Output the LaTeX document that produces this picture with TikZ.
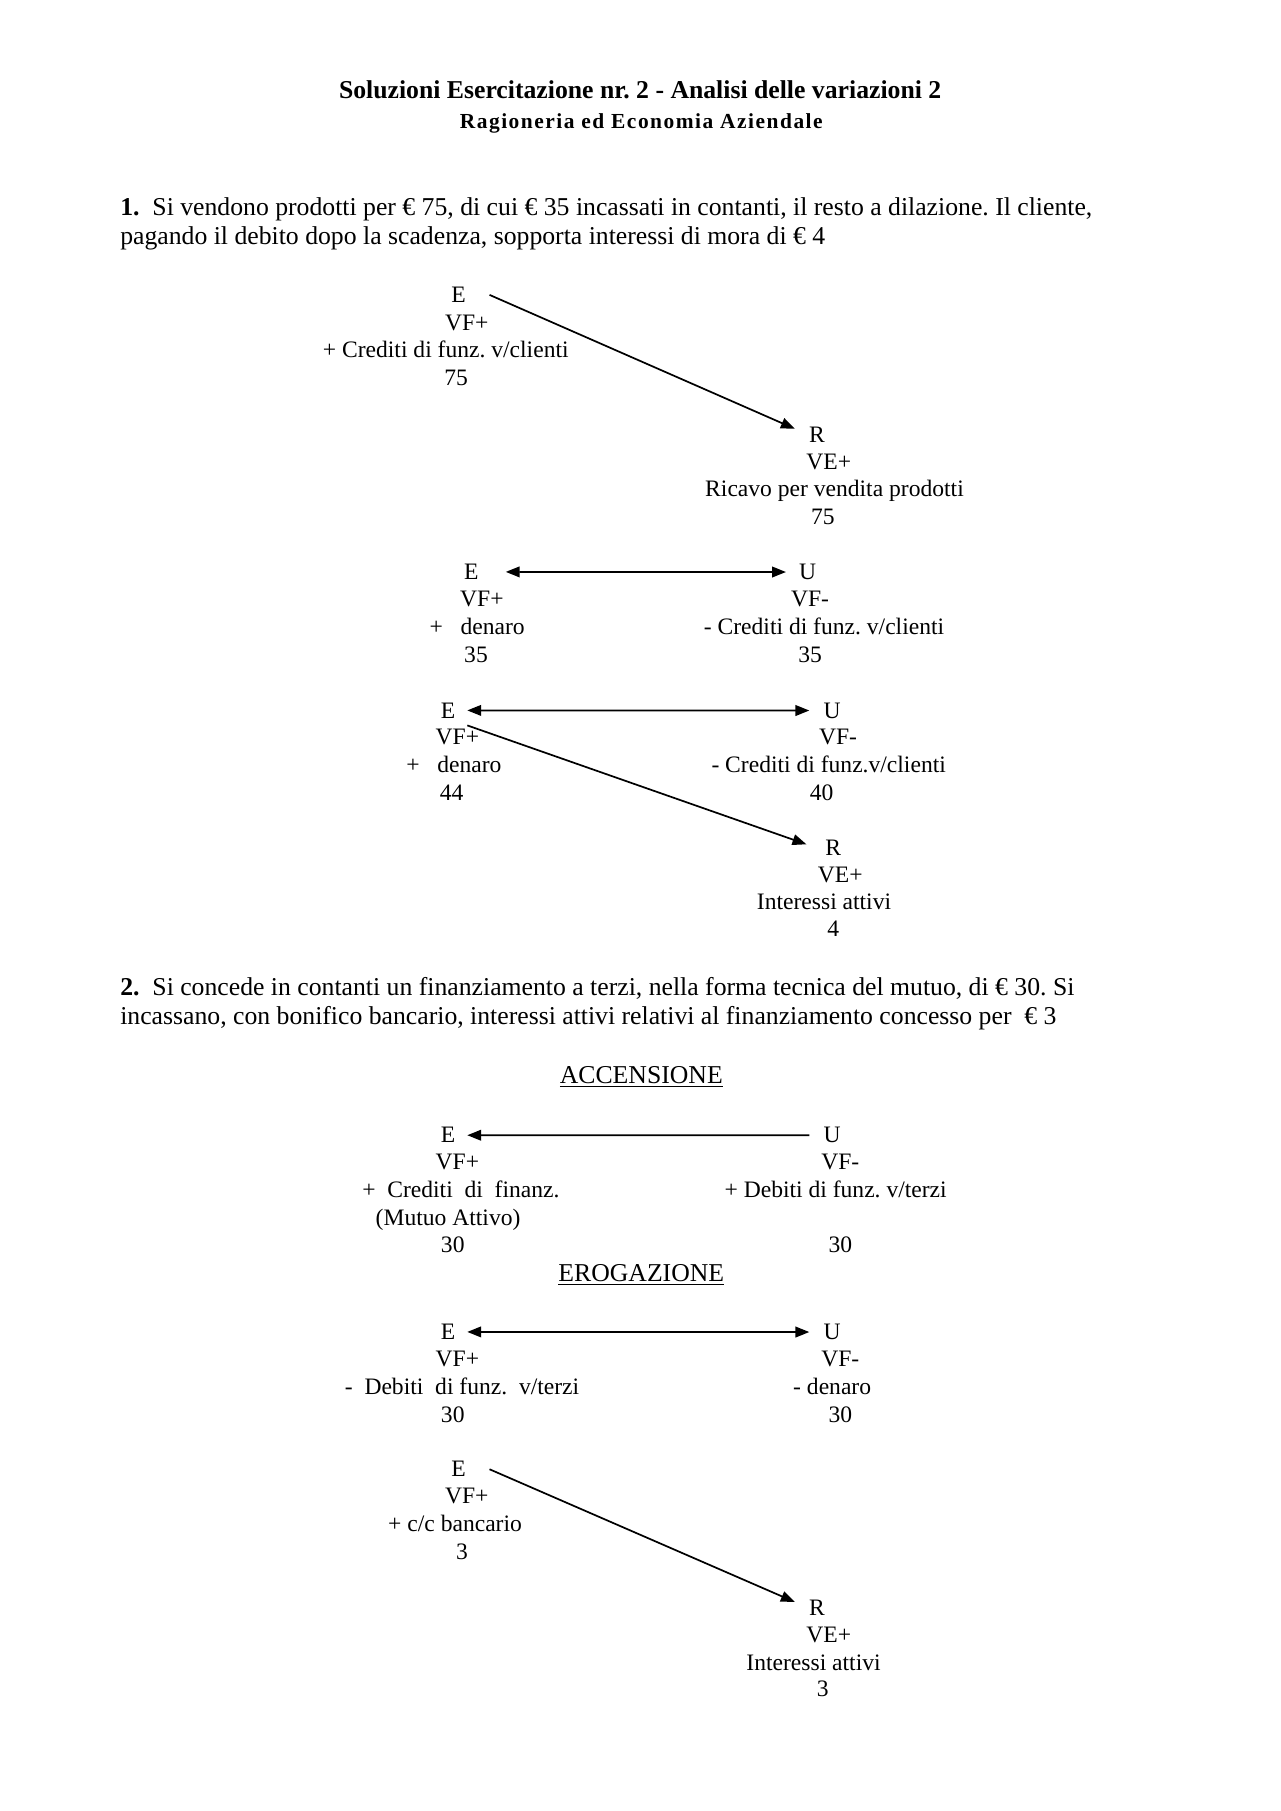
\documentclass[tikz,border=0pt]{standalone}
\usepackage{fontspec}
\setmainfont{Liberation Serif}
\usetikzlibrary{arrows.meta}
\frenchspacing

\begin{document}
\begin{tikzpicture}[x=0.01909cm, y=-0.01909cm,
  lbl/.style={anchor=base, inner sep=0pt, font=\fontsize{11}{13}\selectfont},
  testo/.style={anchor=base west, inner sep=0pt, font=\fontsize{12}{14}\selectfont},
  arr/.style={-{Triangle[length=6.5pt,width=5pt]}, line width=0.8pt},
  darr/.style={{Triangle[length=6.5pt,width=5pt]}-{Triangle[length=6.5pt,width=5pt]}, line width=0.8pt}]
\useasboundingbox (4,1) rectangle (1104,1557);

\node[lbl, font=\fontsize{12}{14}\selectfont\bfseries] (titolo) at (554,86) {Soluzioni Esercitazione nr. 2 - Analisi delle variazioni 2};
\node[lbl, font=\fontsize{10}{12}\selectfont\bfseries\addfontfeature{LetterSpace=7}] (corso) at (555,111) {Ragioneria ed Economia Aziendale};

\node[testo] (es1a) at (107,186) {\textbf{1.}\ \ Si vendono prodotti per € 75, di cui € 35 incassati in contanti, il resto a dilazione. Il cliente,};
\node[testo] (es1b) at (107,211) {pagando il debito dopo la scadenza, sopporta interessi di mora di € 4};

\node[lbl] (e1) at (398,261) {E};
\node[lbl] (e1vf) at (405,285) {VF+};
\node[lbl] (e1voce) at (387,308) {+ Crediti di funz. v/clienti};
\node[lbl] (e1imp) at (396,332) {75};
\node[lbl] (r1) at (706,381) {R};
\node[lbl] (r1ve) at (716,404) {VE+};
\node[lbl] (r1voce) at (721,428) {Ricavo per vendita prodotti};
\node[lbl] (r1imp) at (711,452) {75};
\draw[arr] ([xshift=10.9pt]e1.east) -- ([shift={(-6.5pt,2.7pt)}]r1.west);

\node[lbl] (e2) at (409,499) {E};
\node[lbl] (e2vf) at (418,522) {VF+};
\node[lbl] (e2voce) at (414,546) {+\ \ \ denaro};
\node[lbl] (e2imp) at (413,570) {35};
\node[lbl] (u2) at (698,499) {U};
\node[lbl] (u2vf) at (700,522) {VF-};
\node[lbl] (u2voce) at (712,546) {- Crediti di funz. v/clienti};
\node[lbl] (u2imp) at (700,570) {35};
\draw[darr] ([xshift=12.5pt]e2.east) -- ([xshift=-6pt]u2.west);

\node[lbl] (e3) at (389,618) {E};
\node[lbl] (e3vf) at (397,641) {VF+};
\node[lbl] (e3voce) at (394,665) {+\ \ \ denaro};
\node[lbl] (e3imp) at (392,689) {44};
\node[lbl] (u3) at (719,618) {U};
\node[lbl] (u3vf) at (724,641) {VF-};
\node[lbl] (u3voce) at (716,665) {- Crediti di funz.v/clienti};
\node[lbl] (u3imp) at (710,689) {40};
\node[lbl] (r3) at (720,736) {R};
\node[lbl] (r3ve) at (726,759) {VE+};
\node[lbl] (r3voce) at (712,782) {Interessi attivi};
\node[lbl] (r3imp) at (720,806) {4};
\draw[darr] ([xshift=5.4pt]e3.east) -- ([xshift=-6.5pt]u3.west);
\draw[arr] ([shift={(5.4pt,-7pt)}]e3.east) -- ([shift={(-8.7pt,1.6pt)}]r3.west);

\node[testo] (es2a) at (107,856) {\textbf{2.}\ \ Si concede in contanti un finanziamento a terzi, nella forma tecnica del mutuo, di € 30. Si};
\node[testo] (es2b) at (107,881) {incassano, con bonifico bancario, interessi attivi relativi al finanziamento concesso per\ \ € 3};

\node[lbl, font=\fontsize{12}{14}\selectfont] (accensione) at (555,932) {\underline{ACCENSIONE}};

\node[lbl] (e4) at (389,983) {E};
\node[lbl] (e4vf) at (397,1006) {VF+};
\node[lbl] (e4voce) at (400,1030) {+\ \ Crediti\ \ di\ \ finanz.};
\node[lbl] (e4nota) at (389,1054) {(Mutuo Attivo)};
\node[lbl] (e4imp) at (393,1077) {30};
\node[lbl] (u4) at (719,983) {U};
\node[lbl] (u4vf) at (726,1006) {VF-};
\node[lbl] (u4voce) at (722,1030) {+ Debiti di funz. v/terzi};
\node[lbl] (u4imp) at (726,1077) {30};
\draw[arr] ([xshift=-6.5pt]u4.west) -- ([xshift=5.4pt]e4.east);

\node[lbl, font=\fontsize{12}{14}\selectfont] (erogazione) at (555,1102) {\underline{EROGAZIONE}};

\node[lbl] (e5) at (389,1152) {E};
\node[lbl] (e5vf) at (397,1175) {VF+};
\node[lbl] (e5voce) at (401,1199) {-\ \ Debiti\ \ di funz.\ \ v/terzi};
\node[lbl] (e5imp) at (393,1223) {30};
\node[lbl] (u5) at (719,1152) {U};
\node[lbl] (u5vf) at (726,1175) {VF-};
\node[lbl] (u5voce) at (719,1199) {- denaro};
\node[lbl] (u5imp) at (726,1223) {30};
\draw[darr] ([xshift=5.4pt]e5.east) -- ([xshift=-6.5pt]u5.west);

\node[lbl] (e6) at (398,1270) {E};
\node[lbl] (e6vf) at (405,1293) {VF+};
\node[lbl] (e6voce) at (395,1317) {+ c/c bancario};
\node[lbl] (e6imp) at (401,1341) {3};
\node[lbl] (r6) at (706,1389) {R};
\node[lbl] (r6ve) at (716,1412) {VE+};
\node[lbl] (r6voce) at (703,1436) {Interessi attivi};
\node[lbl] (r6imp) at (711,1459) {3};
\draw[arr] ([xshift=10.9pt]e6.east) -- ([shift={(-6.5pt,2.7pt)}]r6.west);
\end{tikzpicture}
\end{document}
